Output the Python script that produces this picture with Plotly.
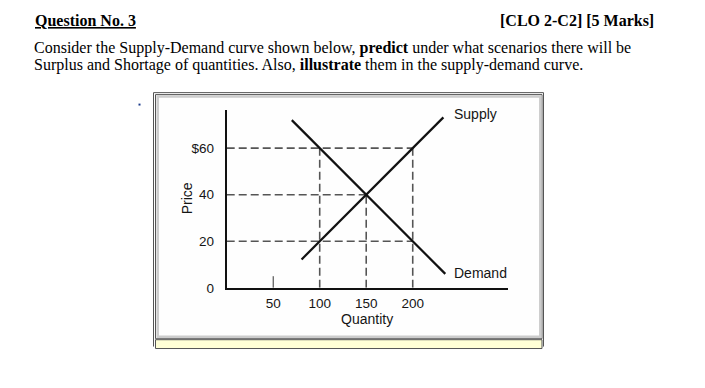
import plotly.graph_objects as go

# page body has an 8px default margin: figure is placed at (8, 8);
# keep the page within the 705x388 window so nothing is rescaled
OFF = 8
W, H = 705 - 2 * OFF, 388 - 2 * OFF

# ---- data ----
price_levels = [20, 40, 60]
qty_demanded = [200, 150, 100]
qty_supplied = [100, 150, 200]
supply_q = [80.5, 233]
supply_p = [12.2, 73.2]
demand_q = [70, 235]
demand_p = [72, 6]
x_ticks = [50, 100, 150, 200]
x_tick_labels = ["50", "100", "150", "200"]
y_ticks = [0, 20, 40, 60]
y_tick_labels = ["0", "20", "40", "$60"]
x_range = [0, 302]
y_range = [0, 76.5]

def px(x):
    return (x - OFF) / W

def py(y):
    return 1 - (y - OFF) / H

fig = go.Figure()

LINE = "#111111"
DASH = "#555555"

# dashed guide lines (horizontal)
for p, qd, qs in zip(price_levels, qty_demanded, qty_supplied):
    fig.add_trace(go.Scatter(x=[0, max(qd, qs)], y=[p, p], mode="lines",
                             line=dict(color=DASH, width=1.6, dash="8px,4px"),
                             hoverinfo="skip", showlegend=False))
# dashed guide lines (vertical)
verts = {}
for p, qd, qs in zip(price_levels, qty_demanded, qty_supplied):
    for q in (qd, qs):
        verts[q] = max(verts.get(q, 0), p)
for q, p in verts.items():
    fig.add_trace(go.Scatter(x=[q, q], y=[0, p], mode="lines",
                             line=dict(color=DASH, width=1.6, dash="8px,4px"),
                             hoverinfo="skip", showlegend=False))

# supply and demand
fig.add_trace(go.Scatter(x=supply_q, y=supply_p, mode="lines",
                         line=dict(color=LINE, width=2.2), showlegend=False))
fig.add_trace(go.Scatter(x=demand_q, y=demand_p, mode="lines",
                         line=dict(color=LINE, width=2.2), showlegend=False))
# small tick at 50
fig.add_trace(go.Scatter(x=[x_ticks[0], x_ticks[0]], y=[0, 5], mode="lines",
                         line=dict(color="#333333", width=1), showlegend=False))

sans = "Arial, Liberation Sans, sans-serif"
serif = "Times New Roman, Liberation Serif, serif"
TXT = "#151515"

fig.update_layout(
    width=W, height=H,
    margin=dict(l=0, r=0, t=0, b=0),
    paper_bgcolor="white",
    plot_bgcolor="rgba(0,0,0,0)",
    xaxis=dict(domain=[px(226.7), px(507.6)], range=x_range,
               showgrid=False, zeroline=False,
               showline=True, linecolor=LINE, linewidth=2,
               tickmode="array", tickvals=x_ticks, ticktext=x_tick_labels,
               ticks="", ticklabelstandoff=2,
               tickfont=dict(family=sans, size=13.5, color=TXT)),
    yaxis=dict(domain=[py(294), py(111.9)], range=y_range,
               showgrid=False, zeroline=False,
               showline=True, linecolor=LINE, linewidth=2,
               tickmode="array", tickvals=y_ticks, ticktext=y_tick_labels,
               ticks="", ticklabelstandoff=8,
               tickfont=dict(family=sans, size=13.5, color=TXT)),
    showlegend=False,
)

shapes = []
# outer frame lines
shapes.append(dict(type="line", xref="paper", yref="paper",
                   x0=px(153.5), x1=px(543.5), y0=py(94.5), y1=py(94.5),
                   line=dict(color="#555555", width=1), layer="below"))
shapes.append(dict(type="line", xref="paper", yref="paper",
                   x0=px(153.5), x1=px(153.5), y0=py(94.5), y1=py(354),
                   line=dict(color="#555555", width=1), layer="below"))
shapes.append(dict(type="line", xref="paper", yref="paper",
                   x0=px(543.5), x1=px(543.5), y0=py(94.5), y1=py(354),
                   line=dict(color="#555555", width=1), layer="below"))
# inner frame
shapes.append(dict(type="rect", xref="paper", yref="paper",
                   x0=px(155.5), x1=px(542), y0=py(96.5), y1=py(346),
                   line=dict(color="#555555", width=1), fillcolor="white", layer="below"))
shapes.append(dict(type="rect", xref="paper", yref="paper",
                   x0=px(157.7), x1=px(540.3), y0=py(98.5), y1=py(344),
                   line=dict(color="#cccccc", width=2.5), fillcolor="#fefefe", layer="below"))
# yellow box
shapes.append(dict(type="rect", xref="paper", yref="paper",
                   x0=px(155.5), x1=px(542), y0=py(347), y1=py(356),
                   line=dict(color="#555555", width=1), fillcolor="#ffffd6", layer="below"))
# small dot
shapes.append(dict(type="rect", xref="paper", yref="paper",
                   x0=px(138.5), x1=px(140.5), y0=py(105.7), y1=py(107.7),
                   line=dict(width=0), fillcolor="#1a3a8a", layer="below"))
fig.update_layout(shapes=shapes)

ann = []
ann.append(dict(text="<b><u>Question No. 3</u></b>", xref="paper", yref="paper",
                x=px(32.5), y=py(20.5), xanchor="left", yanchor="middle", showarrow=False,
                font=dict(family=serif, size=16, color="#000000")))
ann.append(dict(text="<b>[CLO 2-C2] [5 Marks]</b>", xref="paper", yref="paper",
                x=px(655.5), y=py(20.5), xanchor="right", yanchor="middle", showarrow=False,
                font=dict(family=serif, size=16, color="#000000")))
ann.append(dict(text="Consider the Supply-Demand curve shown below, <b>predict</b> under what scenarios there will be",
                xref="paper", yref="paper", x=px(31.5), y=py(48.8), xanchor="left", yanchor="middle",
                showarrow=False, font=dict(family=serif, size=16, color="#000000")))
ann.append(dict(text="Surplus and Shortage of quantities. Also, <b>illustrate</b> them in the supply-demand curve.",
                xref="paper", yref="paper", x=px(31.5), y=py(66.5), xanchor="left", yanchor="middle",
                showarrow=False, font=dict(family=serif, size=16, color="#000000")))
# axis titles and curve labels
ann.append(dict(text="Price", xref="paper", yref="paper", x=px(186.5), y=py(203),
                xanchor="center", yanchor="middle", textangle=-90, showarrow=False,
                font=dict(family=sans, size=14, color=TXT)))
ann.append(dict(text="Quantity", xref="paper", yref="paper", x=px(366.5), y=py(325.5),
                xanchor="center", yanchor="middle", showarrow=False,
                font=dict(family=sans, size=14, color=TXT)))
ann.append(dict(text="Supply", xref="x", yref="y", x=242, y=74.5,
                xanchor="left", yanchor="middle", showarrow=False,
                font=dict(family=sans, size=14, color=TXT)))
ann.append(dict(text="Demand", xref="x", yref="y", x=242, y=6.3,
                xanchor="left", yanchor="middle", showarrow=False,
                font=dict(family=sans, size=14, color=TXT)))
fig.update_layout(annotations=ann)

fig.write_html("out.html")
